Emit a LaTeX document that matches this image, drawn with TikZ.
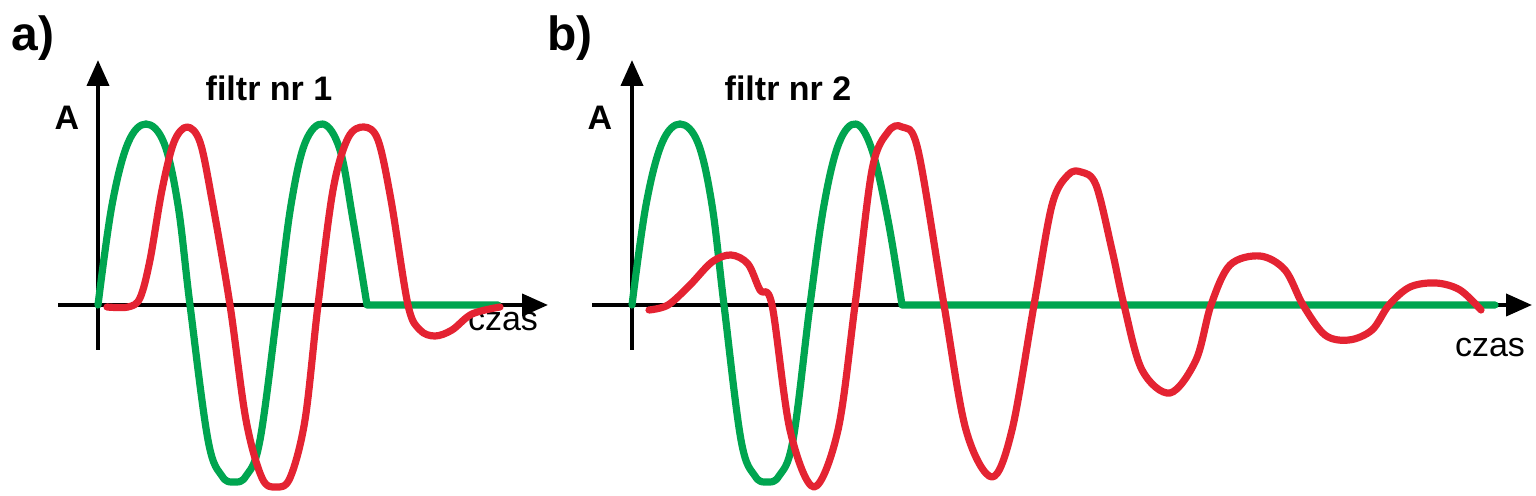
\documentclass[tikz,border=0pt]{standalone}
\usepackage{fontspec}
\setmainfont{Liberation Sans}
\usetikzlibrary{arrows.meta}
\definecolor{gr}{RGB}{0,165,80}
\definecolor{rd}{RGB}{228,35,50}
\begin{document}
\begin{tikzpicture}[x=0.5pt,y=-0.5pt,
 ax/.style={line width=2pt,-{Triangle[length=13pt,width=11pt]}},
 wg/.style={line width=3.6pt,gr,line join=round,line cap=round},
 wr/.style={line width=3.6pt,rd,line join=round,line cap=round},
 lab/.style={font=\fontsize{17}{20}\selectfont\bfseries},
 tx/.style={font=\fontsize{17}{20}\selectfont}]
\useasboundingbox (0,0) rectangle (1536,496);
% panel a
\node[font=\fontsize{24}{28}\selectfont\bfseries] (pa) at (33,38) {a)};
\coordinate (ay0) at (98,350); \coordinate (ay1) at (98,60);
\coordinate (ax0) at (58,305); \coordinate (ax1) at (548,305);
\draw[ax] (ay0) -- (ay1);
\draw[ax] (ax0) -- (ax1);
\node[lab] (aA) at (67,118) {A};
\node[lab] (at) at (269,88) {filtr nr 1};
\node[tx] (ac) at (503,322) {czas};
\draw[wg] plot[smooth,tension=0.6] coordinates {(98,305) (112,205) (128,143) (146,124) (164,143) (178,205) (190,305) (208,440) (222,476) (234,482) (246,476) (260,440) (278,305) (291,205) (305,143) (323,124) (340,150) (353,220) (367,305)} -- (498,305);
\draw[wr] plot[smooth,tension=0.55] coordinates {(107,307) (128,307) (140,298) (150,260) (162,190) (174,142) (187,127) (200,142) (212,200) (230,305) (246,420) (262,478) (276,487) (290,478) (305,420) (318,305) (333,190) (348,138) (364,127) (378,140) (391,200) (408,305) (420,330) (435,336) (452,330) (472,314) (500,307)};
% panel b
\node[font=\fontsize{24}{28}\selectfont\bfseries] (pb) at (570,38) {b)};
\coordinate (by0) at (632,350); \coordinate (by1) at (632,60);
\coordinate (bx0) at (592,305); \coordinate (bx1) at (1532,305);
\draw[ax] (by0) -- (by1);
\draw[ax] (bx0) -- (bx1);
\node[lab] (bA) at (600,118) {A};
\node[lab] (bt) at (788,88) {filtr nr 2};
\node[tx] (bc) at (1490,348) {czas};
\draw[wg] plot[smooth,tension=0.6] coordinates {(632,305) (646,205) (662,143) (680,124) (698,143) (712,205) (724,305) (741,440) (755,476) (767,482) (779,476) (793,440) (810,305) (824,205) (839,143) (856,124) (872,150) (888,220) (902,305)} -- (1495,305);
\draw[wr] plot[smooth,tension=0.55] coordinates {(649,310) (668,305) (690,285) (712,262) (731,255) (748,264) (760,290) (772,305) (790,430) (814,487) (838,430) (855,305) (872,170) (888,132) (902,127) (918,150) (944,305) (966,430) (992,477) (1012,430) (1034,305) (1052,205) (1068,175) (1081,172) (1096,185) (1112,250) (1124,305) (1142,370) (1170,393) (1196,360) (1211,305) (1230,265) (1260,256) (1285,270) (1303,305) (1325,335) (1349,340) (1372,330) (1389,305) (1410,287) (1436,283) (1460,290) (1481,310)};
\end{tikzpicture}
\end{document}
